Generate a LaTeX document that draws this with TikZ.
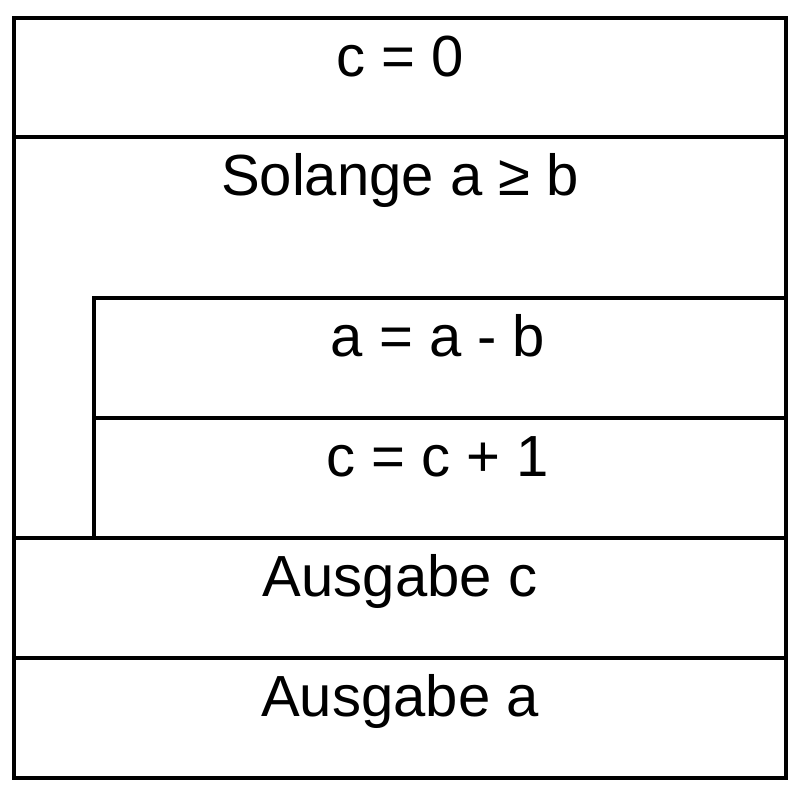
\documentclass[tikz,border=0pt]{standalone}
\usepackage{fontspec}
\setmainfont{Liberation Sans}
\usetikzlibrary{positioning}

\begin{document}
\begin{tikzpicture}[x=0.01cm,y=-0.01cm]
  \tikzset{nsline/.style={draw,line width=0.04cm},
           nstext/.style={anchor=base,inner sep=0pt,font=\fontsize{16.5}{20}\selectfont}}
  \useasboundingbox (0,0) rectangle (800,800);

  % outer block and separators
  \draw[nsline] (14,18) rectangle (786,778);
  \draw[nsline] (14,137) -- (786,137);
  \draw[nsline] (14,538) -- (786,538);
  \draw[nsline] (14,658) -- (786,658);
  % loop body
  \draw[nsline] (94,538) |- (786,298);
  \draw[nsline] (94,418) -- (786,418);

  \node[nstext] (init)  at (400,76)  {c = 0};
  \node[nstext] (loop)  at (400,195) {Solange a ≥ b};
  \node[nstext] (sub)   at (438,356) {a = a - b};
  \node[nstext] (count) at (438,476) {c = c + 1};
  \node[nstext] (outc)  at (400,596) {Ausgabe c};
  \node[nstext] (outa)  at (400,716) {Ausgabe a};
\end{tikzpicture}
\end{document}
